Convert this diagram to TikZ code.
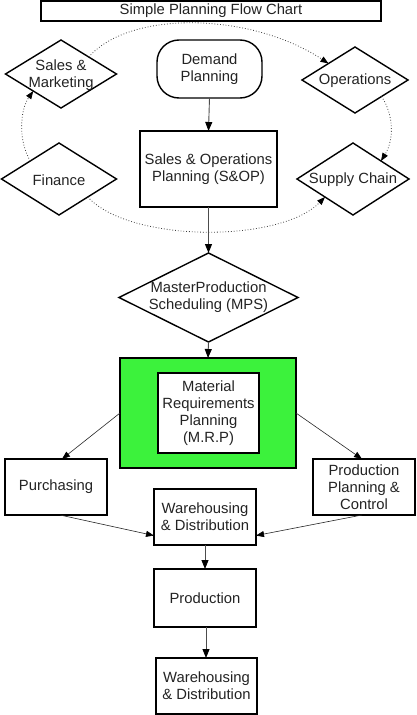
\documentclass[tikz,border=0pt]{standalone}
\usepackage{fontspec}
\setmainfont{Liberation Sans}
\usetikzlibrary{shapes.geometric,arrows.meta,calc}
\definecolor{mrpgreen}{RGB}{60,242,60}
\definecolor{txtc}{RGB}{35,35,35}
\begin{document}
\begin{tikzpicture}[x=1pt,y=-1pt,
  every node/.style={font=\fontsize{14.8}{16.8}\selectfont, text=txtc, align=center, inner sep=0pt, outer sep=0pt},
  box/.style={draw=black, line width=1.4pt, rectangle, fill=white},
  dia/.style={draw=black, line width=1.4pt, diamond, fill=white},
  conn/.style={draw=black!70, line width=0.9pt, -{Triangle[length=9pt,width=7pt,color=black]}},
  slimarrow/.style={draw=black!85, line width=0.6pt, -{Triangle[length=8pt,width=6pt,color=black]}},
  dots/.style={draw=black!75, dotted, line width=0.8pt, -{Triangle[length=8pt,width=6pt,color=black]}}]
\useasboundingbox (0,0) rectangle (416,715);

% title
\node[box, line width=1.2pt, minimum width=340pt, minimum height=20pt] (title) at (211,11) {Simple Planning Flow Chart};

% top cluster
\node[dia, minimum width=111pt, minimum height=68pt] (sm) at (61,74) {};
\node (smtxt) at (61,75.5) {Sales \&\\Marketing};
\node[box, rounded corners=22pt, minimum width=105pt, minimum height=58pt] (dp) at (209.5,69) {Demand\\Planning};
\node[dia, minimum width=106pt, minimum height=66pt] (op) at (355,80) {};
\node (optxt) at (355,80.5) {Operations};
\node[dia, minimum width=115pt, minimum height=72pt] (fin) at (59,179) {};
\node (fintxt) at (59,180) {Finance};
\node[box, minimum width=137pt, minimum height=76pt] (sop) at (208.5,169) {Sales \& Operations\\Planning (S\&OP)};
\node[dia, minimum width=112pt, minimum height=72pt] (sc) at (353,179) {};
\node (sctxt) at (353,180) {Supply Chain};

% dotted cycle
\draw[dots] (sm.north east) .. controls (130,10) and (250,12) .. (op.north west);
\draw[dots] (op.south east) .. controls (394,115) and (394,140) .. (sc.north east);
\draw[dots] (fin.south east) .. controls (130,243) and (280,243) .. (sc.south west);
\draw[dots] (fin.north west) .. controls (18,140) and (20,110) .. (sm.south west);

% main column
\node[dia, minimum width=179pt, minimum height=89pt] (mps) at (208.5,297.5) {};
\node (mpstxt) at (208.5,297.5) {MasterProduction\\Scheduling (MPS)};
\node[draw=black, line width=1.4pt, fill=mrpgreen, minimum width=176pt, minimum height=110pt] (mrpg) at (208,413) {};
\node[box, minimum width=101pt, minimum height=80pt] (mrp) at (208.5,413) {Material\\Requirements\\Planning\\(M.R.P)};
\node[box, minimum width=102pt, minimum height=56pt] (pur) at (56,487) {Purchasing};
\node[box, minimum width=102pt, minimum height=56pt] (ppc) at (364,487) {Production\\Planning \&\\Control};
\node[box, minimum width=102pt, minimum height=56pt] (wd1) at (205,517) {Warehousing\\\& Distribution};
\node[box, minimum width=102pt, minimum height=58pt] (prod) at (205,598) {Production};
\node[box, minimum width=101pt, minimum height=56pt] (wd2) at (206.5,686) {Warehousing\\\& Distribution};

% connectors
\draw[conn] (dp.south) -- (sop.north);
\draw[conn] (sop.south) -- (mps.north);
\draw[conn] (mps.south) -- (mrpg.north);
\draw[slimarrow] (mrpg.west) -- ([xshift=6pt]pur.north);
\draw[slimarrow] (mrpg.east) -- ([xshift=-2pt]ppc.north);
\draw[slimarrow] ([xshift=4pt]pur.south) -- (wd1.200);
\draw[slimarrow] ([xshift=-2pt]ppc.south) -- (wd1.-20);
\draw[conn] (wd1.south) -- (prod.north);
\draw[conn] ([xshift=1pt]prod.south) -- ([xshift=-0.5pt]wd2.north);
\end{tikzpicture}
\end{document}
